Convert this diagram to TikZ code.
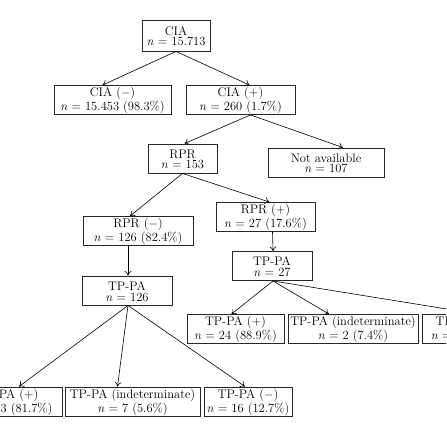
\documentclass[tikz,border=0pt]{standalone}
\usepackage{fontspec}
\usetikzlibrary{positioning,arrows.meta}
\tikzset{
  arr/.style={-{To[length=1.6mm,width=2.4mm]},line width=0.6pt},
  box/.style={draw=black!85,line width=0.9pt,align=center,inner sep=0.5pt,
              minimum height=29pt,text height=21pt,text depth=0pt,
              font=\fontsize{12.5}{10.8}\selectfont}
}

\begin{document}
\begin{tikzpicture}[x=1pt,y=-1pt]
\useasboundingbox (0,0) rectangle (446,446);
\clip (0,0) rectangle (446,446);

% first split
\node[box, minimum width=68pt, minimum height=31pt] (cia) at (176,35.5) {CIA\\ \textit{n} = 15.713};
\node[box, minimum width=117pt] (ciam) at (112.5,100) {CIA ($-$)\\ \textit{n} = 15.453 (98.3\%)};
\node[box, minimum width=109pt] (ciap) at (240.5,100) {CIA (+)\\ \textit{n} = 260 (1.7\%)};

% RPR
\node[box, minimum width=69pt] (rpr) at (182.5,158.5) {RPR\\ \textit{n} = 153};
\node[box, minimum width=116pt] (na) at (326,162.5) {Not available\\ \textit{n} = 107};
\node[box, minimum width=110pt] (rprm) at (138,231) {RPR ($-$)\\ \textit{n} = 126 (82.4\%)};
\node[box, minimum width=99pt] (rprp) at (265.5,217) {RPR (+)\\ \textit{n} = 27 (17.6\%)};

% TP-PA
\node[box, minimum width=90pt] (tpa) at (127,290.5) {TP-PA\\ \textit{n} = 126};
\node[box, minimum width=80pt] (tpb) at (272,266) {TP-PA\\ \textit{n} = 27};

\node[box, minimum width=97pt] (tpbp) at (235.5,329) {TP-PA (+)\\ \textit{n} = 24 (88.9\%)};
\node[box, minimum width=130pt] (tpbi) at (353,329) {TP-PA (indeterminate)\\ \textit{n} = 2 (7.4\%)};
\node[box, minimum width=88pt] (tpbm) at (466,329) {TP-PA ($-$)\\ \textit{n} = 1 (3.7\%)};

\node[box, minimum width=108pt] (tpap) at (8,401.5) {TP-PA (+)\\ \textit{n} = 103 (81.7\%)};
\node[box, minimum width=135pt] (tpai) at (132.5,401.5) {TP-PA (indeterminate)\\ \textit{n} = 7 (5.6\%)};
\node[box, minimum width=88pt] (tpam) at (248,401.5) {TP-PA ($-$)\\ \textit{n} = 16 (12.7\%)};

\draw[arr] (cia.south) -- ([xshift=-10pt]ciam.north);
\draw[arr] (cia.south) -- ([xshift=9pt]ciap.north);
\draw[arr] ([xshift=10pt]ciap.south) -- ([xshift=2pt]rpr.north);
\draw[arr] ([xshift=10pt]ciap.south) -- ([xshift=17pt]na.north);
\draw[arr] (rpr.south) -- ([xshift=-8pt]rprm.north);
\draw[arr] (rpr.south) -- ([xshift=4pt]rprp.north);
\draw[arr] ([xshift=-10pt]rprm.south) -- ([xshift=1pt]tpa.north);
\draw[arr] ([xshift=7pt]rprp.south) -- ([xshift=1pt]tpb.north);
\draw[arr] ([xshift=1pt]tpa.south) -- ([xshift=11pt]tpap.north);
\draw[arr] ([xshift=1pt]tpa.south) -- ([xshift=-15pt]tpai.north);
\draw[arr] ([xshift=1pt]tpa.south) -- ([xshift=-3pt]tpam.north);
\draw[arr] ([xshift=1pt]tpb.south) -- ([xshift=-4pt]tpbp.north);
\draw[arr] ([xshift=1pt]tpb.south) -- ([xshift=-24pt]tpbi.north);
\draw[arr] ([xshift=1pt]tpb.south) -- ([xshift=12pt]tpbm.north);
\end{tikzpicture}
\end{document}
